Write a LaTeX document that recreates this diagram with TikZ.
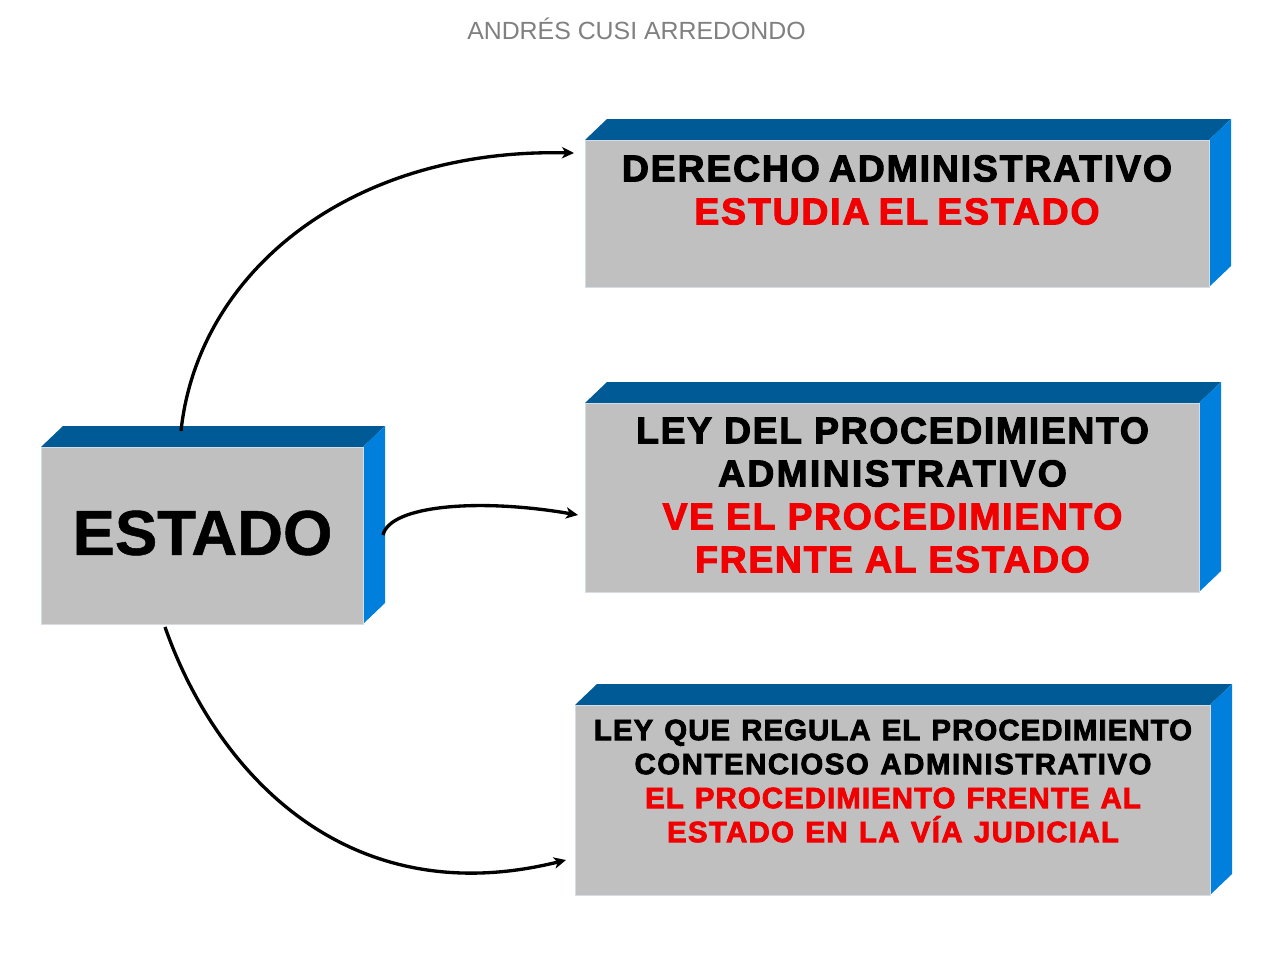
\documentclass[tikz,border=0pt]{standalone}
\usepackage{fontspec}
\setmainfont{Liberation Sans}
\newfontfamily\boxfont[FakeBold=2.8,LetterSpace=5.0,WordSpace=0.75]{Liberation Sans Bold}
\newfontfamily\boxfontb[FakeBold=2.8,LetterSpace=4.5]{Liberation Sans Bold}
\newfontfamily\boxfontc[FakeBold=2.8,LetterSpace=6.2]{Liberation Sans Bold}
\newfontfamily\smallfont[FakeBold=2.8,LetterSpace=3.8,WordSpace=1.2]{Liberation Sans Bold}
\newfontfamily\smallfontb[FakeBold=2.8,LetterSpace=5.4,WordSpace=1.2]{Liberation Sans Bold}
\newfontfamily\smallfontc[FakeBold=2.8,LetterSpace=4.7,WordSpace=1.2]{Liberation Sans Bold}
\newfontfamily\bigfont[FakeBold=0.8]{Liberation Sans Bold}
\usetikzlibrary{arrows.meta,calc}
\definecolor{topface}{HTML}{005A96}
\definecolor{sideface}{HTML}{0080DC}
\definecolor{frontface}{HTML}{C0C0C0}
\definecolor{edgeface}{HTML}{D4DCE4}
\definecolor{titlegray}{HTML}{808080}
\definecolor{redtext}{HTML}{F00000}
\tikzset{
  x=0.75pt,y=-0.75pt,
  front/.style={fill=frontface,draw=edgeface,line width=0.6pt,inner sep=0pt,anchor=north west},
  topf/.style={fill=topface,draw=none},
  sidef/.style={fill=sideface,draw=none},
  conn/.style={line width=2.5pt,black,-{Stealth[length=9pt,width=8.5pt,inset=2.5pt]}},
  txt/.style={align=center,inner sep=0pt,anchor=center},
}
\newcommand{\solidbox}[5]{% name, x0,y0,x1,y1
  \path[topf] (#2,#3) -- (#2+22,#3-21) -- (#4+22,#3-21) -- (#4,#3) -- cycle;
  \path[sidef] (#4,#3) -- (#4+22,#3-21) -- (#4+22,#5-21) -- (#4,#5) -- cycle;
  \node[front,minimum width={(#4-#2)*0.75pt},minimum height={(#5-#3)*0.75pt}] (#1) at (#2,#3) {};
}
\begin{document}
\begin{tikzpicture}
\useasboundingbox (0,0) rectangle (1280,960);
\fill[white] (0,0) rectangle (1280,960);
\node[txt,text=titlegray,font=\fontsize{18.65pt}{22pt}\selectfont] (title) at (636.5,29) {ANDRÉS CUSI ARREDONDO};

\solidbox{estado}{41}{447}{363}{624}
\solidbox{derecho}{585}{140}{1209}{287}
\solidbox{ley}{585}{403}{1199}{592}
\solidbox{regula}{575}{705}{1210}{895}

\node[txt,font=\bigfont\fontsize{47.6pt}{52pt}\selectfont] (estadot) at (202.5,533) {ESTADO};

\node[txt,font=\boxfont\fontsize{28pt}{32.25pt}\selectfont] (dert) at (897,190)
  {DERECHO ADMINISTRATIVO\\\textcolor{redtext}{ESTUDIA EL ESTADO}};
\node[txt,font=\boxfontb\fontsize{28pt}{32.25pt}\selectfont] (leyt) at (892.5,495)
  {LEY DEL PROCEDIMIENTO\\{\boxfontc ADMINISTRATIVO}\\\textcolor{redtext}{VE EL PROCEDIMIENTO}\\\textcolor{redtext}{FRENTE AL ESTADO}};
\node[txt,font=\smallfont\fontsize{22pt}{25.5pt}\selectfont] (regt) at (893,781)
  {LEY QUE REGULA EL PROCEDIMIENTO\\{\smallfontb CONTENCIOSO ADMINISTRATIVO}\\\textcolor{redtext}{EL PROCEDIMIENTO FRENTE AL}\\\textcolor{redtext}{\smallfontc ESTADO EN LA VÍA JUDICIAL}};

\coordinate (a1s) at (181,431);
\coordinate (a1e) at (574,153);
\coordinate (a2s) at (383,535);
\coordinate (a2e) at (578,515);
\coordinate (a3s) at (165,627);
\coordinate (a3e) at (566,860);
\draw[conn] (a1s) .. controls (198,272) and (350,148) .. (a1e);
\draw[conn] (a2s) .. controls (390,505) and (480,498) .. (a2e);
\draw[conn] (a3s) .. controls (215,770) and (345,915) .. (a3e);
\end{tikzpicture}
\end{document}
